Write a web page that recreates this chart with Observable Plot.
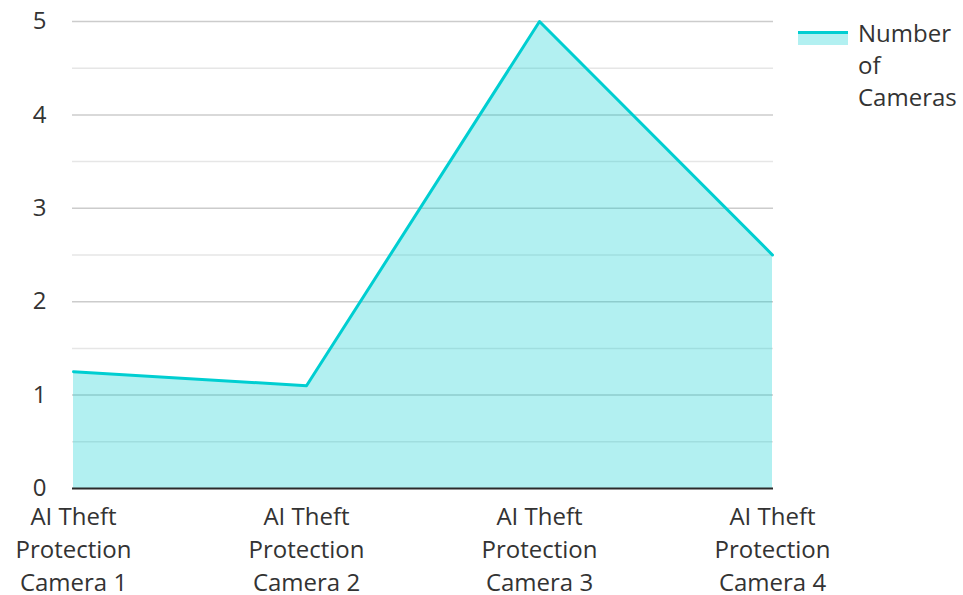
<!DOCTYPE html>
<html>
<head>
<meta charset="utf-8">
<script src="https://cdn.jsdelivr.net/npm/d3@7"></script>
<script src="https://cdn.jsdelivr.net/npm/@observablehq/plot@0.6"></script>
<style>
  html, body { margin: 0; padding: 0; background: #fff; }
  #wrap { position: relative; width: 963px; height: 595px; font-family: "Open Sans", sans-serif; }
  #legend { position: absolute; left: 798px; top: 17px; display: flex; align-items: flex-start; color: #333; font-size: 24px; line-height: 32px; }
  #legend .sw { width: 50px; height: 14px; margin-top: 14px; margin-right: 10px; border-top: 3px solid #00ced1; background: rgba(0,206,209,0.3); box-sizing: border-box; }
</style>
</head>
<body>
<div id="wrap"><div id="legend"><div class="sw"></div><div>Number<br>of<br>Cameras</div></div></div>
<script>
const categories = ["AI Theft Protection Camera 1", "AI Theft Protection Camera 2", "AI Theft Protection Camera 3", "AI Theft Protection Camera 4"];
const tickLabels = ["AI Theft\nProtection\nCamera 1", "AI Theft\nProtection\nCamera 2", "AI Theft\nProtection\nCamera 3", "AI Theft\nProtection\nCamera 4"];
const cameraCounts = [1.25, 1.1, 5, 2.5];
const yTicks = [0, 1, 2, 3, 4, 5];
const yMinorTicks = [0.5, 1.5, 2.5, 3.5, 4.5];
const seriesName = "Number of Cameras";

const data = categories.map((c, i) => ({category: c, value: cameraCounts[i]}));
const labelOf = new Map(categories.map((c, i) => [c, tickLabels[i]]));

const chart = Plot.plot({
  width: 963,
  height: 595,
  marginLeft: 72,
  marginRight: 190,
  marginTop: 21,
  marginBottom: 107,
  style: {fontFamily: "Open Sans, sans-serif", color: "#333", background: "transparent", overflow: "visible"},
  x: {type: "point", domain: categories, padding: 0},
  y: {domain: [0, 5]},
  marks: [
    Plot.ruleY(yMinorTicks, {stroke: "#e6e6e6", strokeWidth: 1.5}),
    Plot.ruleY(yTicks.filter(d => d > 0), {stroke: "#cccccc", strokeWidth: 1.5}),
    Plot.areaY(data, {x: "category", y: "value", fill: "#00ced1", fillOpacity: 0.3}),
    Plot.lineY(data, {x: "category", y: "value", stroke: "#00ced1", strokeWidth: 3}),
    Plot.ruleY([0], {stroke: "#2b2b2b", strokeWidth: 2}),
    Plot.axisY({ticks: yTicks, tickFormat: d3.format("d"), tickSize: 0, tickPadding: 26, fontSize: 24, label: null, fill: "#333"}),
    Plot.axisX({tickSize: 0, tickPadding: 13, fontSize: 24, lineHeight: 1.375, label: null, fill: "#333", tickFormat: d => labelOf.get(d)})
  ]
});
chart.setAttribute("aria-label", seriesName);
document.getElementById("wrap").prepend(chart);
chart.style.position = "absolute";
chart.style.left = "0";
chart.style.top = "0";
</script>
</body>
</html>
